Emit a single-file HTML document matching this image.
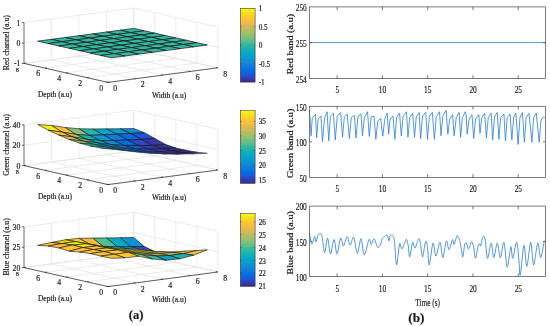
<!DOCTYPE html>
<html><head><meta charset="utf-8"><title>Figure</title>
<style>html,body{margin:0;padding:0;background:#fff}svg{display:block}</style></head>
<body>
<svg width="550" height="326" viewBox="0 0 550 326">
<rect width="550" height="326" fill="#fff"/>
<line x1="108" y1="82.4" x2="24" y2="63.4" stroke="#e2e2e2" stroke-width="0.7"/>
<line x1="108" y1="82.4" x2="217.8" y2="67.8" stroke="#e2e2e2" stroke-width="0.7"/>
<line x1="135.45" y1="78.75" x2="51.45" y2="59.75" stroke="#e2e2e2" stroke-width="0.7"/>
<line x1="87" y1="77.65" x2="196.8" y2="63.05" stroke="#e2e2e2" stroke-width="0.7"/>
<line x1="162.9" y1="75.1" x2="78.9" y2="56.1" stroke="#e2e2e2" stroke-width="0.7"/>
<line x1="66" y1="72.9" x2="175.8" y2="58.3" stroke="#e2e2e2" stroke-width="0.7"/>
<line x1="190.35" y1="71.45" x2="106.35" y2="52.45" stroke="#e2e2e2" stroke-width="0.7"/>
<line x1="45" y1="68.15" x2="154.8" y2="53.55" stroke="#e2e2e2" stroke-width="0.7"/>
<line x1="217.8" y1="67.8" x2="133.8" y2="48.8" stroke="#e2e2e2" stroke-width="0.7"/>
<line x1="24" y1="63.4" x2="133.8" y2="48.8" stroke="#e2e2e2" stroke-width="0.7"/>
<line x1="24" y1="63.4" x2="24" y2="22.6" stroke="#e2e2e2" stroke-width="0.7"/>
<line x1="217.8" y1="67.8" x2="217.8" y2="27" stroke="#e2e2e2" stroke-width="0.7"/>
<line x1="51.45" y1="59.75" x2="51.45" y2="18.95" stroke="#e2e2e2" stroke-width="0.7"/>
<line x1="196.8" y1="63.05" x2="196.8" y2="22.25" stroke="#e2e2e2" stroke-width="0.7"/>
<line x1="78.9" y1="56.1" x2="78.9" y2="15.3" stroke="#e2e2e2" stroke-width="0.7"/>
<line x1="175.8" y1="58.3" x2="175.8" y2="17.5" stroke="#e2e2e2" stroke-width="0.7"/>
<line x1="106.35" y1="52.45" x2="106.35" y2="11.65" stroke="#e2e2e2" stroke-width="0.7"/>
<line x1="154.8" y1="53.55" x2="154.8" y2="12.75" stroke="#e2e2e2" stroke-width="0.7"/>
<line x1="133.8" y1="48.8" x2="133.8" y2="8" stroke="#e2e2e2" stroke-width="0.7"/>
<line x1="133.8" y1="48.8" x2="133.8" y2="8" stroke="#e2e2e2" stroke-width="0.7"/>
<line x1="24" y1="63.4" x2="133.8" y2="48.8" stroke="#e2e2e2" stroke-width="0.7"/>
<line x1="133.8" y1="48.8" x2="217.8" y2="67.8" stroke="#e2e2e2" stroke-width="0.7"/>
<line x1="24" y1="43" x2="133.8" y2="28.4" stroke="#e2e2e2" stroke-width="0.7"/>
<line x1="133.8" y1="28.4" x2="217.8" y2="47.4" stroke="#e2e2e2" stroke-width="0.7"/>
<line x1="24" y1="22.6" x2="133.8" y2="8" stroke="#e2e2e2" stroke-width="0.7"/>
<line x1="133.8" y1="8" x2="217.8" y2="27" stroke="#e2e2e2" stroke-width="0.7"/>
<polygon points="130.58,32.6 144.3,30.77 133.8,28.4 120.08,30.22" fill="#33b8a1" stroke="#111" stroke-width="0.68" stroke-linejoin="round"/>
<polygon points="116.85,34.42 130.58,32.6 120.08,30.22 106.35,32.05" fill="#33b8a1" stroke="#111" stroke-width="0.68" stroke-linejoin="round"/>
<polygon points="141.08,34.97 154.8,33.15 144.3,30.77 130.58,32.6" fill="#33b8a1" stroke="#111" stroke-width="0.68" stroke-linejoin="round"/>
<polygon points="103.12,36.25 116.85,34.42 106.35,32.05 92.62,33.88" fill="#33b8a1" stroke="#111" stroke-width="0.68" stroke-linejoin="round"/>
<polygon points="127.35,36.8 141.08,34.97 130.58,32.6 116.85,34.42" fill="#33b8a1" stroke="#111" stroke-width="0.68" stroke-linejoin="round"/>
<polygon points="151.58,37.35 165.3,35.52 154.8,33.15 141.08,34.97" fill="#33b8a1" stroke="#111" stroke-width="0.68" stroke-linejoin="round"/>
<polygon points="89.4,38.07 103.12,36.25 92.62,33.88 78.9,35.7" fill="#33b8a1" stroke="#111" stroke-width="0.68" stroke-linejoin="round"/>
<polygon points="113.62,38.62 127.35,36.8 116.85,34.42 103.12,36.25" fill="#33b8a1" stroke="#111" stroke-width="0.68" stroke-linejoin="round"/>
<polygon points="137.85,39.18 151.58,37.35 141.08,34.97 127.35,36.8" fill="#33b8a1" stroke="#111" stroke-width="0.68" stroke-linejoin="round"/>
<polygon points="162.08,39.73 175.8,37.9 165.3,35.52 151.58,37.35" fill="#33b8a1" stroke="#111" stroke-width="0.68" stroke-linejoin="round"/>
<polygon points="75.68,39.9 89.4,38.07 78.9,35.7 65.18,37.52" fill="#33b8a1" stroke="#111" stroke-width="0.68" stroke-linejoin="round"/>
<polygon points="99.9,40.45 113.62,38.62 103.12,36.25 89.4,38.07" fill="#33b8a1" stroke="#111" stroke-width="0.68" stroke-linejoin="round"/>
<polygon points="124.12,41 137.85,39.18 127.35,36.8 113.62,38.62" fill="#33b8a1" stroke="#111" stroke-width="0.68" stroke-linejoin="round"/>
<polygon points="148.35,41.55 162.08,39.73 151.58,37.35 137.85,39.18" fill="#33b8a1" stroke="#111" stroke-width="0.68" stroke-linejoin="round"/>
<polygon points="61.95,41.72 75.68,39.9 65.18,37.52 51.45,39.35" fill="#33b8a1" stroke="#111" stroke-width="0.68" stroke-linejoin="round"/>
<polygon points="172.58,42.1 186.3,40.27 175.8,37.9 162.08,39.73" fill="#33b8a1" stroke="#111" stroke-width="0.68" stroke-linejoin="round"/>
<polygon points="86.18,42.27 99.9,40.45 89.4,38.07 75.68,39.9" fill="#33b8a1" stroke="#111" stroke-width="0.68" stroke-linejoin="round"/>
<polygon points="110.4,42.82 124.12,41 113.62,38.62 99.9,40.45" fill="#33b8a1" stroke="#111" stroke-width="0.68" stroke-linejoin="round"/>
<polygon points="134.62,43.38 148.35,41.55 137.85,39.18 124.12,41" fill="#33b8a1" stroke="#111" stroke-width="0.68" stroke-linejoin="round"/>
<polygon points="48.22,43.55 61.95,41.72 51.45,39.35 37.72,41.17" fill="#33b8a1" stroke="#111" stroke-width="0.68" stroke-linejoin="round"/>
<polygon points="158.85,43.93 172.58,42.1 162.08,39.73 148.35,41.55" fill="#33b8a1" stroke="#111" stroke-width="0.68" stroke-linejoin="round"/>
<polygon points="72.45,44.1 86.18,42.27 75.68,39.9 61.95,41.72" fill="#33b8a1" stroke="#111" stroke-width="0.68" stroke-linejoin="round"/>
<polygon points="183.08,44.48 196.8,42.65 186.3,40.27 172.58,42.1" fill="#33b8a1" stroke="#111" stroke-width="0.68" stroke-linejoin="round"/>
<polygon points="96.68,44.65 110.4,42.82 99.9,40.45 86.18,42.27" fill="#33b8a1" stroke="#111" stroke-width="0.68" stroke-linejoin="round"/>
<polygon points="120.9,45.2 134.62,43.38 124.12,41 110.4,42.82" fill="#33b8a1" stroke="#111" stroke-width="0.68" stroke-linejoin="round"/>
<polygon points="145.12,45.75 158.85,43.93 148.35,41.55 134.62,43.38" fill="#33b8a1" stroke="#111" stroke-width="0.68" stroke-linejoin="round"/>
<polygon points="58.72,45.93 72.45,44.1 61.95,41.72 48.22,43.55" fill="#33b8a1" stroke="#111" stroke-width="0.68" stroke-linejoin="round"/>
<polygon points="169.35,46.3 183.08,44.48 172.58,42.1 158.85,43.93" fill="#33b8a1" stroke="#111" stroke-width="0.68" stroke-linejoin="round"/>
<polygon points="82.95,46.48 96.68,44.65 86.18,42.27 72.45,44.1" fill="#33b8a1" stroke="#111" stroke-width="0.68" stroke-linejoin="round"/>
<polygon points="193.58,46.85 207.3,45.02 196.8,42.65 183.08,44.48" fill="#33b8a1" stroke="#111" stroke-width="0.68" stroke-linejoin="round"/>
<polygon points="107.18,47.02 120.9,45.2 110.4,42.82 96.68,44.65" fill="#33b8a1" stroke="#111" stroke-width="0.68" stroke-linejoin="round"/>
<polygon points="131.4,47.57 145.12,45.75 134.62,43.38 120.9,45.2" fill="#33b8a1" stroke="#111" stroke-width="0.68" stroke-linejoin="round"/>
<polygon points="155.62,48.13 169.35,46.3 158.85,43.93 145.12,45.75" fill="#33b8a1" stroke="#111" stroke-width="0.68" stroke-linejoin="round"/>
<polygon points="69.22,48.3 82.95,46.48 72.45,44.1 58.72,45.93" fill="#33b8a1" stroke="#111" stroke-width="0.68" stroke-linejoin="round"/>
<polygon points="179.85,48.68 193.58,46.85 183.08,44.48 169.35,46.3" fill="#33b8a1" stroke="#111" stroke-width="0.68" stroke-linejoin="round"/>
<polygon points="93.45,48.85 107.18,47.02 96.68,44.65 82.95,46.48" fill="#33b8a1" stroke="#111" stroke-width="0.68" stroke-linejoin="round"/>
<polygon points="117.68,49.4 131.4,47.57 120.9,45.2 107.18,47.02" fill="#33b8a1" stroke="#111" stroke-width="0.68" stroke-linejoin="round"/>
<polygon points="141.9,49.95 155.62,48.13 145.12,45.75 131.4,47.57" fill="#33b8a1" stroke="#111" stroke-width="0.68" stroke-linejoin="round"/>
<polygon points="166.12,50.5 179.85,48.68 169.35,46.3 155.62,48.13" fill="#33b8a1" stroke="#111" stroke-width="0.68" stroke-linejoin="round"/>
<polygon points="79.72,50.68 93.45,48.85 82.95,46.48 69.22,48.3" fill="#33b8a1" stroke="#111" stroke-width="0.68" stroke-linejoin="round"/>
<polygon points="103.95,51.23 117.68,49.4 107.18,47.02 93.45,48.85" fill="#33b8a1" stroke="#111" stroke-width="0.68" stroke-linejoin="round"/>
<polygon points="128.18,51.77 141.9,49.95 131.4,47.57 117.68,49.4" fill="#33b8a1" stroke="#111" stroke-width="0.68" stroke-linejoin="round"/>
<polygon points="152.4,52.32 166.12,50.5 155.62,48.13 141.9,49.95" fill="#33b8a1" stroke="#111" stroke-width="0.68" stroke-linejoin="round"/>
<polygon points="90.22,53.05 103.95,51.23 93.45,48.85 79.72,50.68" fill="#33b8a1" stroke="#111" stroke-width="0.68" stroke-linejoin="round"/>
<polygon points="114.45,53.6 128.18,51.77 117.68,49.4 103.95,51.23" fill="#33b8a1" stroke="#111" stroke-width="0.68" stroke-linejoin="round"/>
<polygon points="138.68,54.15 152.4,52.32 141.9,49.95 128.18,51.77" fill="#33b8a1" stroke="#111" stroke-width="0.68" stroke-linejoin="round"/>
<polygon points="100.72,55.43 114.45,53.6 103.95,51.23 90.22,53.05" fill="#33b8a1" stroke="#111" stroke-width="0.68" stroke-linejoin="round"/>
<polygon points="124.95,55.98 138.68,54.15 128.18,51.77 114.45,53.6" fill="#33b8a1" stroke="#111" stroke-width="0.68" stroke-linejoin="round"/>
<polygon points="111.22,57.8 124.95,55.98 114.45,53.6 100.72,55.43" fill="#33b8a1" stroke="#111" stroke-width="0.68" stroke-linejoin="round"/>
<line x1="24" y1="63.4" x2="24" y2="22.6" stroke="#4a4a4a" stroke-width="0.75"/>
<line x1="24" y1="63.4" x2="108" y2="82.4" stroke="#303030" stroke-width="0.75"/>
<line x1="108" y1="82.4" x2="217.8" y2="67.8" stroke="#303030" stroke-width="0.75"/>
<line x1="24" y1="63.4" x2="21.8" y2="63.4" stroke="#303030" stroke-width="0.75"/>
<line x1="24" y1="43" x2="21.8" y2="43" stroke="#303030" stroke-width="0.75"/>
<line x1="24" y1="22.6" x2="21.8" y2="22.6" stroke="#303030" stroke-width="0.75"/>
<line x1="108" y1="82.4" x2="109.92" y2="82.14" stroke="#303030" stroke-width="0.75"/>
<line x1="108" y1="82.4" x2="106.11" y2="81.97" stroke="#303030" stroke-width="0.75"/>
<line x1="87" y1="77.65" x2="88.92" y2="77.39" stroke="#303030" stroke-width="0.75"/>
<line x1="135.45" y1="78.75" x2="133.56" y2="78.32" stroke="#303030" stroke-width="0.75"/>
<line x1="66" y1="72.9" x2="67.92" y2="72.64" stroke="#303030" stroke-width="0.75"/>
<line x1="162.9" y1="75.1" x2="161.01" y2="74.67" stroke="#303030" stroke-width="0.75"/>
<line x1="45" y1="68.15" x2="46.92" y2="67.89" stroke="#303030" stroke-width="0.75"/>
<line x1="190.35" y1="71.45" x2="188.46" y2="71.02" stroke="#303030" stroke-width="0.75"/>
<line x1="24" y1="63.4" x2="25.92" y2="63.14" stroke="#303030" stroke-width="0.75"/>
<line x1="217.8" y1="67.8" x2="215.91" y2="67.37" stroke="#303030" stroke-width="0.75"/>
<text transform="translate(20.4,66.3)" font-size="7.8" text-anchor="end" textLength="6.5" lengthAdjust="spacingAndGlyphs" fill="#1a1a1a" stroke="#1a1a1a" stroke-width="0.18" font-family="Liberation Serif, serif">-1</text>
<text transform="translate(20.4,45.9)" font-size="7.8" text-anchor="end" textLength="3.9" lengthAdjust="spacingAndGlyphs" fill="#1a1a1a" stroke="#1a1a1a" stroke-width="0.18" font-family="Liberation Serif, serif">0</text>
<text transform="translate(20.4,25.5)" font-size="7.8" text-anchor="end" textLength="3.9" lengthAdjust="spacingAndGlyphs" fill="#1a1a1a" stroke="#1a1a1a" stroke-width="0.18" font-family="Liberation Serif, serif">1</text>
<text transform="translate(101.2,90.7)" font-size="7.8" text-anchor="middle" textLength="3.9" lengthAdjust="spacingAndGlyphs" fill="#1a1a1a" stroke="#1a1a1a" stroke-width="0.18" font-family="Liberation Serif, serif">0</text>
<text transform="translate(115.3,91.1)" font-size="7.8" text-anchor="middle" textLength="3.9" lengthAdjust="spacingAndGlyphs" fill="#1a1a1a" stroke="#1a1a1a" stroke-width="0.18" font-family="Liberation Serif, serif">0</text>
<text transform="translate(80.2,85.95)" font-size="7.8" text-anchor="middle" textLength="3.9" lengthAdjust="spacingAndGlyphs" fill="#1a1a1a" stroke="#1a1a1a" stroke-width="0.18" font-family="Liberation Serif, serif">2</text>
<text transform="translate(142.75,87.45)" font-size="7.8" text-anchor="middle" textLength="3.9" lengthAdjust="spacingAndGlyphs" fill="#1a1a1a" stroke="#1a1a1a" stroke-width="0.18" font-family="Liberation Serif, serif">2</text>
<text transform="translate(59.2,81.2)" font-size="7.8" text-anchor="middle" textLength="3.9" lengthAdjust="spacingAndGlyphs" fill="#1a1a1a" stroke="#1a1a1a" stroke-width="0.18" font-family="Liberation Serif, serif">4</text>
<text transform="translate(170.2,83.8)" font-size="7.8" text-anchor="middle" textLength="3.9" lengthAdjust="spacingAndGlyphs" fill="#1a1a1a" stroke="#1a1a1a" stroke-width="0.18" font-family="Liberation Serif, serif">4</text>
<text transform="translate(38.2,76.45)" font-size="7.8" text-anchor="middle" textLength="3.9" lengthAdjust="spacingAndGlyphs" fill="#1a1a1a" stroke="#1a1a1a" stroke-width="0.18" font-family="Liberation Serif, serif">6</text>
<text transform="translate(197.65,80.15)" font-size="7.8" text-anchor="middle" textLength="3.9" lengthAdjust="spacingAndGlyphs" fill="#1a1a1a" stroke="#1a1a1a" stroke-width="0.18" font-family="Liberation Serif, serif">6</text>
<text transform="translate(17.2,71.7)" font-size="6.3" text-anchor="middle" textLength="3.15" lengthAdjust="spacingAndGlyphs" fill="#1a1a1a" stroke="#1a1a1a" stroke-width="0.18" font-family="Liberation Serif, serif">8</text>
<text transform="translate(225.1,76.5)" font-size="7.8" text-anchor="middle" textLength="3.9" lengthAdjust="spacingAndGlyphs" fill="#1a1a1a" stroke="#1a1a1a" stroke-width="0.18" font-family="Liberation Serif, serif">8</text>
<text transform="translate(55,96.9)" font-size="7.5" text-anchor="middle" textLength="34.15" lengthAdjust="spacingAndGlyphs" fill="#1a1a1a" stroke="#1a1a1a" stroke-width="0.18" font-family="Liberation Serif, serif">Depth (a.u)</text>
<text transform="translate(169,98)" font-size="7.5" text-anchor="middle" textLength="34.27" lengthAdjust="spacingAndGlyphs" fill="#1a1a1a" stroke="#1a1a1a" stroke-width="0.18" font-family="Liberation Serif, serif">Width (a.u)</text>
<text transform="translate(8.9,42.7) rotate(-90)" font-size="7.8" text-anchor="middle" textLength="55.22" lengthAdjust="spacingAndGlyphs" fill="#1a1a1a" stroke="#1a1a1a" stroke-width="0.18" font-family="Liberation Serif, serif">Red channel (a.u)</text>
<line x1="108" y1="184.6" x2="24" y2="165.6" stroke="#e2e2e2" stroke-width="0.7"/>
<line x1="108" y1="184.6" x2="217.8" y2="170" stroke="#e2e2e2" stroke-width="0.7"/>
<line x1="135.45" y1="180.95" x2="51.45" y2="161.95" stroke="#e2e2e2" stroke-width="0.7"/>
<line x1="87" y1="179.85" x2="196.8" y2="165.25" stroke="#e2e2e2" stroke-width="0.7"/>
<line x1="162.9" y1="177.3" x2="78.9" y2="158.3" stroke="#e2e2e2" stroke-width="0.7"/>
<line x1="66" y1="175.1" x2="175.8" y2="160.5" stroke="#e2e2e2" stroke-width="0.7"/>
<line x1="190.35" y1="173.65" x2="106.35" y2="154.65" stroke="#e2e2e2" stroke-width="0.7"/>
<line x1="45" y1="170.35" x2="154.8" y2="155.75" stroke="#e2e2e2" stroke-width="0.7"/>
<line x1="217.8" y1="170" x2="133.8" y2="151" stroke="#e2e2e2" stroke-width="0.7"/>
<line x1="24" y1="165.6" x2="133.8" y2="151" stroke="#e2e2e2" stroke-width="0.7"/>
<line x1="24" y1="165.6" x2="24" y2="124.8" stroke="#e2e2e2" stroke-width="0.7"/>
<line x1="217.8" y1="170" x2="217.8" y2="129.2" stroke="#e2e2e2" stroke-width="0.7"/>
<line x1="51.45" y1="161.95" x2="51.45" y2="121.15" stroke="#e2e2e2" stroke-width="0.7"/>
<line x1="196.8" y1="165.25" x2="196.8" y2="124.45" stroke="#e2e2e2" stroke-width="0.7"/>
<line x1="78.9" y1="158.3" x2="78.9" y2="117.5" stroke="#e2e2e2" stroke-width="0.7"/>
<line x1="175.8" y1="160.5" x2="175.8" y2="119.7" stroke="#e2e2e2" stroke-width="0.7"/>
<line x1="106.35" y1="154.65" x2="106.35" y2="113.85" stroke="#e2e2e2" stroke-width="0.7"/>
<line x1="154.8" y1="155.75" x2="154.8" y2="114.95" stroke="#e2e2e2" stroke-width="0.7"/>
<line x1="133.8" y1="151" x2="133.8" y2="110.2" stroke="#e2e2e2" stroke-width="0.7"/>
<line x1="133.8" y1="151" x2="133.8" y2="110.2" stroke="#e2e2e2" stroke-width="0.7"/>
<line x1="24" y1="165.6" x2="133.8" y2="151" stroke="#e2e2e2" stroke-width="0.7"/>
<line x1="133.8" y1="151" x2="217.8" y2="170" stroke="#e2e2e2" stroke-width="0.7"/>
<line x1="24" y1="145.2" x2="133.8" y2="130.6" stroke="#e2e2e2" stroke-width="0.7"/>
<line x1="133.8" y1="130.6" x2="217.8" y2="149.6" stroke="#e2e2e2" stroke-width="0.7"/>
<line x1="24" y1="124.8" x2="133.8" y2="110.2" stroke="#e2e2e2" stroke-width="0.7"/>
<line x1="133.8" y1="110.2" x2="217.8" y2="129.2" stroke="#e2e2e2" stroke-width="0.7"/>
<polygon points="130.58,133.47 144.3,132.67 133.8,128.56 120.08,128.75" fill="#118dd2" stroke="#111" stroke-width="0.6" stroke-linejoin="round"/>
<polygon points="116.85,134.18 130.58,133.47 120.08,128.75 106.35,128.84" fill="#079bd0" stroke="#111" stroke-width="0.6" stroke-linejoin="round"/>
<polygon points="141.08,139.42 154.8,138.41 144.3,132.67 130.58,133.47" fill="#1c55d6" stroke="#111" stroke-width="0.6" stroke-linejoin="round"/>
<polygon points="103.12,134.88 116.85,134.18 106.35,128.84 92.62,128.94" fill="#06a3cb" stroke="#111" stroke-width="0.6" stroke-linejoin="round"/>
<polygon points="127.35,140.02 141.08,139.42 130.58,133.47 116.85,134.18" fill="#036ce0" stroke="#111" stroke-width="0.6" stroke-linejoin="round"/>
<polygon points="151.58,145.47 165.3,144.35 154.8,138.41 141.08,139.42" fill="#3638a3" stroke="#111" stroke-width="0.6" stroke-linejoin="round"/>
<polygon points="89.4,135.38 103.12,134.88 92.62,128.94 78.9,128.72" fill="#23b4ab" stroke="#111" stroke-width="0.6" stroke-linejoin="round"/>
<polygon points="113.62,140.52 127.35,140.02 116.85,134.18 103.12,134.88" fill="#117ada" stroke="#111" stroke-width="0.6" stroke-linejoin="round"/>
<polygon points="137.85,145.46 151.58,145.47 141.08,139.42 127.35,140.02" fill="#2d49c3" stroke="#111" stroke-width="0.6" stroke-linejoin="round"/>
<polygon points="162.08,148.55 175.8,147.95 165.3,144.35 151.58,145.47" fill="#363296" stroke="#111" stroke-width="0.6" stroke-linejoin="round"/>
<polygon points="75.68,134.35 89.4,135.38 78.9,128.72 65.18,127.48" fill="#89bf76" stroke="#111" stroke-width="0.6" stroke-linejoin="round"/>
<polygon points="99.9,140.51 113.62,140.52 103.12,134.88 89.4,135.38" fill="#079bd0" stroke="#111" stroke-width="0.6" stroke-linejoin="round"/>
<polygon points="124.12,145.44 137.85,145.46 127.35,140.02 113.62,140.52" fill="#046de0" stroke="#111" stroke-width="0.6" stroke-linejoin="round"/>
<polygon points="148.35,149.26 162.08,148.55 151.58,145.47 137.85,145.46" fill="#343eb0" stroke="#111" stroke-width="0.6" stroke-linejoin="round"/>
<polygon points="61.95,132.09 75.68,134.35 65.18,127.48 51.45,125.43" fill="#fec139" stroke="#111" stroke-width="0.6" stroke-linejoin="round"/>
<polygon points="172.58,150.93 186.3,150.33 175.8,147.95 162.08,148.55" fill="#362f90" stroke="#111" stroke-width="0.59" stroke-linejoin="round"/>
<polygon points="86.18,139.17 99.9,140.51 89.4,135.38 75.68,134.35" fill="#19b2b2" stroke="#111" stroke-width="0.6" stroke-linejoin="round"/>
<polygon points="110.4,144.52 124.12,145.44 113.62,140.52 99.9,140.51" fill="#1389d3" stroke="#111" stroke-width="0.6" stroke-linejoin="round"/>
<polygon points="134.62,148.74 148.35,149.26 137.85,145.46 124.12,145.44" fill="#0f5cdd" stroke="#111" stroke-width="0.6" stroke-linejoin="round"/>
<polygon points="48.22,130.14 61.95,132.09 51.45,125.43 37.72,124.51" fill="#f5ec18" stroke="#111" stroke-width="0.6" stroke-linejoin="round"/>
<polygon points="158.85,151.74 172.58,150.93 162.08,148.55 148.35,149.26" fill="#3636a0" stroke="#111" stroke-width="0.6" stroke-linejoin="round"/>
<polygon points="72.45,136.92 86.18,139.17 75.68,134.35 61.95,132.09" fill="#adbe67" stroke="#111" stroke-width="0.6" stroke-linejoin="round"/>
<polygon points="183.08,152.79 196.8,152.19 186.3,150.33 172.58,150.93" fill="#352c8a" stroke="#111" stroke-width="0.54" stroke-linejoin="round"/>
<polygon points="96.68,142.77 110.4,144.52 99.9,140.51 86.18,139.17" fill="#0cadbc" stroke="#111" stroke-width="0.57" stroke-linejoin="round"/>
<polygon points="120.9,147.6 134.62,148.74 124.12,145.44 110.4,144.52" fill="#0d75dc" stroke="#111" stroke-width="0.55" stroke-linejoin="round"/>
<polygon points="145.12,151.32 158.85,151.74 148.35,149.26 134.62,148.74" fill="#2c4ac7" stroke="#111" stroke-width="0.52" stroke-linejoin="round"/>
<polygon points="58.72,135.07 72.45,136.92 61.95,132.09 48.22,130.14" fill="#fec139" stroke="#111" stroke-width="0.6" stroke-linejoin="round"/>
<polygon points="169.35,153.5 183.08,152.79 172.58,150.93 158.85,151.74" fill="#363296" stroke="#111" stroke-width="0.54" stroke-linejoin="round"/>
<polygon points="82.95,141.02 96.68,142.77 86.18,139.17 72.45,136.92" fill="#78bf7d" stroke="#111" stroke-width="0.54" stroke-linejoin="round"/>
<polygon points="193.58,153.84 207.3,153.24 196.8,152.19 183.08,152.79" fill="#352a87" stroke="#111" stroke-width="0.43" stroke-linejoin="round"/>
<polygon points="107.18,145.96 120.9,147.6 110.4,144.52 96.68,142.77" fill="#0e92d2" stroke="#111" stroke-width="0.48" stroke-linejoin="round"/>
<polygon points="131.4,150.08 145.12,151.32 134.62,148.74 120.9,147.6" fill="#046de0" stroke="#111" stroke-width="0.45" stroke-linejoin="round"/>
<polygon points="155.62,153.08 169.35,153.5 158.85,151.74 145.12,151.32" fill="#3342b6" stroke="#111" stroke-width="0.42" stroke-linejoin="round"/>
<polygon points="69.22,139.48 82.95,141.02 72.45,136.92 58.72,135.07" fill="#ecb94c" stroke="#111" stroke-width="0.6" stroke-linejoin="round"/>
<polygon points="179.85,154.24 193.58,153.84 183.08,152.79 169.35,153.5" fill="#362f90" stroke="#111" stroke-width="0.4" stroke-linejoin="round"/>
<polygon points="93.45,144.32 107.18,145.96 96.68,142.77 82.95,141.02" fill="#0bacbd" stroke="#111" stroke-width="0.49" stroke-linejoin="round"/>
<polygon points="117.68,148.64 131.4,150.08 120.9,147.6 107.18,145.96" fill="#1389d3" stroke="#111" stroke-width="0.42" stroke-linejoin="round"/>
<polygon points="141.9,152.15 155.62,153.08 145.12,151.32 131.4,150.08" fill="#0364e1" stroke="#111" stroke-width="0.37" stroke-linejoin="round"/>
<polygon points="166.12,154.13 179.85,154.24 169.35,153.5 155.62,153.08" fill="#353ba9" stroke="#111" stroke-width="0.29" stroke-linejoin="round"/>
<polygon points="79.72,143.19 93.45,144.32 82.95,141.02 69.22,139.48" fill="#84bf78" stroke="#111" stroke-width="0.55" stroke-linejoin="round"/>
<polygon points="103.95,147 117.68,148.64 107.18,145.96 93.45,144.32" fill="#07aac1" stroke="#111" stroke-width="0.42" stroke-linejoin="round"/>
<polygon points="128.18,150.71 141.9,152.15 131.4,150.08 117.68,148.64" fill="#127cd9" stroke="#111" stroke-width="0.35" stroke-linejoin="round"/>
<polygon points="152.4,153.51 166.12,154.13 155.62,153.08 141.9,152.15" fill="#1459db" stroke="#111" stroke-width="0.27" stroke-linejoin="round"/>
<polygon points="90.22,146.07 103.95,147 93.45,144.32 79.72,143.19" fill="#30b7a3" stroke="#111" stroke-width="0.5" stroke-linejoin="round"/>
<polygon points="114.45,149.17 128.18,150.71 117.68,148.64 103.95,147" fill="#079dcf" stroke="#111" stroke-width="0.33" stroke-linejoin="round"/>
<polygon points="138.68,152.27 152.4,153.51 141.9,152.15 128.18,150.71" fill="#0e77db" stroke="#111" stroke-width="0.23" stroke-linejoin="round"/>
<polygon points="100.72,148.14 114.45,149.17 103.95,147 90.22,146.07" fill="#27b5a8" stroke="#111" stroke-width="0.41" stroke-linejoin="round"/>
<polygon points="124.95,150.73 138.68,152.27 128.18,150.71 114.45,149.17" fill="#0899d1" stroke="#111" stroke-width="0.22" stroke-linejoin="round"/>
<polygon points="111.22,149.29 124.95,150.73 114.45,149.17 100.72,148.14" fill="#1bb2b0" stroke="#111" stroke-width="0.23" stroke-linejoin="round"/>
<line x1="24" y1="165.6" x2="24" y2="124.8" stroke="#4a4a4a" stroke-width="0.75"/>
<line x1="24" y1="165.6" x2="108" y2="184.6" stroke="#303030" stroke-width="0.75"/>
<line x1="108" y1="184.6" x2="217.8" y2="170" stroke="#303030" stroke-width="0.75"/>
<line x1="24" y1="165.6" x2="21.8" y2="165.6" stroke="#303030" stroke-width="0.75"/>
<line x1="24" y1="145.2" x2="21.8" y2="145.2" stroke="#303030" stroke-width="0.75"/>
<line x1="24" y1="124.8" x2="21.8" y2="124.8" stroke="#303030" stroke-width="0.75"/>
<line x1="108" y1="184.6" x2="109.92" y2="184.34" stroke="#303030" stroke-width="0.75"/>
<line x1="108" y1="184.6" x2="106.11" y2="184.17" stroke="#303030" stroke-width="0.75"/>
<line x1="87" y1="179.85" x2="88.92" y2="179.59" stroke="#303030" stroke-width="0.75"/>
<line x1="135.45" y1="180.95" x2="133.56" y2="180.52" stroke="#303030" stroke-width="0.75"/>
<line x1="66" y1="175.1" x2="67.92" y2="174.84" stroke="#303030" stroke-width="0.75"/>
<line x1="162.9" y1="177.3" x2="161.01" y2="176.87" stroke="#303030" stroke-width="0.75"/>
<line x1="45" y1="170.35" x2="46.92" y2="170.09" stroke="#303030" stroke-width="0.75"/>
<line x1="190.35" y1="173.65" x2="188.46" y2="173.22" stroke="#303030" stroke-width="0.75"/>
<line x1="24" y1="165.6" x2="25.92" y2="165.34" stroke="#303030" stroke-width="0.75"/>
<line x1="217.8" y1="170" x2="215.91" y2="169.57" stroke="#303030" stroke-width="0.75"/>
<text transform="translate(20.4,168.5)" font-size="7.8" text-anchor="end" textLength="3.9" lengthAdjust="spacingAndGlyphs" fill="#1a1a1a" stroke="#1a1a1a" stroke-width="0.18" font-family="Liberation Serif, serif">0</text>
<text transform="translate(20.4,148.1)" font-size="7.8" text-anchor="end" textLength="7.8" lengthAdjust="spacingAndGlyphs" fill="#1a1a1a" stroke="#1a1a1a" stroke-width="0.18" font-family="Liberation Serif, serif">20</text>
<text transform="translate(20.4,127.7)" font-size="7.8" text-anchor="end" textLength="7.8" lengthAdjust="spacingAndGlyphs" fill="#1a1a1a" stroke="#1a1a1a" stroke-width="0.18" font-family="Liberation Serif, serif">40</text>
<text transform="translate(101.2,192.9)" font-size="7.8" text-anchor="middle" textLength="3.9" lengthAdjust="spacingAndGlyphs" fill="#1a1a1a" stroke="#1a1a1a" stroke-width="0.18" font-family="Liberation Serif, serif">0</text>
<text transform="translate(115.3,193.3)" font-size="7.8" text-anchor="middle" textLength="3.9" lengthAdjust="spacingAndGlyphs" fill="#1a1a1a" stroke="#1a1a1a" stroke-width="0.18" font-family="Liberation Serif, serif">0</text>
<text transform="translate(80.2,188.15)" font-size="7.8" text-anchor="middle" textLength="3.9" lengthAdjust="spacingAndGlyphs" fill="#1a1a1a" stroke="#1a1a1a" stroke-width="0.18" font-family="Liberation Serif, serif">2</text>
<text transform="translate(142.75,189.65)" font-size="7.8" text-anchor="middle" textLength="3.9" lengthAdjust="spacingAndGlyphs" fill="#1a1a1a" stroke="#1a1a1a" stroke-width="0.18" font-family="Liberation Serif, serif">2</text>
<text transform="translate(59.2,183.4)" font-size="7.8" text-anchor="middle" textLength="3.9" lengthAdjust="spacingAndGlyphs" fill="#1a1a1a" stroke="#1a1a1a" stroke-width="0.18" font-family="Liberation Serif, serif">4</text>
<text transform="translate(170.2,186)" font-size="7.8" text-anchor="middle" textLength="3.9" lengthAdjust="spacingAndGlyphs" fill="#1a1a1a" stroke="#1a1a1a" stroke-width="0.18" font-family="Liberation Serif, serif">4</text>
<text transform="translate(38.2,178.65)" font-size="7.8" text-anchor="middle" textLength="3.9" lengthAdjust="spacingAndGlyphs" fill="#1a1a1a" stroke="#1a1a1a" stroke-width="0.18" font-family="Liberation Serif, serif">6</text>
<text transform="translate(197.65,182.35)" font-size="7.8" text-anchor="middle" textLength="3.9" lengthAdjust="spacingAndGlyphs" fill="#1a1a1a" stroke="#1a1a1a" stroke-width="0.18" font-family="Liberation Serif, serif">6</text>
<text transform="translate(17.2,173.9)" font-size="6.3" text-anchor="middle" textLength="3.15" lengthAdjust="spacingAndGlyphs" fill="#1a1a1a" stroke="#1a1a1a" stroke-width="0.18" font-family="Liberation Serif, serif">8</text>
<text transform="translate(225.1,178.7)" font-size="7.8" text-anchor="middle" textLength="3.9" lengthAdjust="spacingAndGlyphs" fill="#1a1a1a" stroke="#1a1a1a" stroke-width="0.18" font-family="Liberation Serif, serif">8</text>
<text transform="translate(55,199.1)" font-size="7.5" text-anchor="middle" textLength="34.15" lengthAdjust="spacingAndGlyphs" fill="#1a1a1a" stroke="#1a1a1a" stroke-width="0.18" font-family="Liberation Serif, serif">Depth (a.u)</text>
<text transform="translate(169,200.2)" font-size="7.5" text-anchor="middle" textLength="34.27" lengthAdjust="spacingAndGlyphs" fill="#1a1a1a" stroke="#1a1a1a" stroke-width="0.18" font-family="Liberation Serif, serif">Width (a.u)</text>
<text transform="translate(8.9,144.9) rotate(-90)" font-size="7.8" text-anchor="middle" textLength="61.71" lengthAdjust="spacingAndGlyphs" fill="#1a1a1a" stroke="#1a1a1a" stroke-width="0.18" font-family="Liberation Serif, serif">Green channel (a.u)</text>
<line x1="108" y1="286.6" x2="24" y2="267.6" stroke="#e2e2e2" stroke-width="0.7"/>
<line x1="108" y1="286.6" x2="217.8" y2="272" stroke="#e2e2e2" stroke-width="0.7"/>
<line x1="135.45" y1="282.95" x2="51.45" y2="263.95" stroke="#e2e2e2" stroke-width="0.7"/>
<line x1="87" y1="281.85" x2="196.8" y2="267.25" stroke="#e2e2e2" stroke-width="0.7"/>
<line x1="162.9" y1="279.3" x2="78.9" y2="260.3" stroke="#e2e2e2" stroke-width="0.7"/>
<line x1="66" y1="277.1" x2="175.8" y2="262.5" stroke="#e2e2e2" stroke-width="0.7"/>
<line x1="190.35" y1="275.65" x2="106.35" y2="256.65" stroke="#e2e2e2" stroke-width="0.7"/>
<line x1="45" y1="272.35" x2="154.8" y2="257.75" stroke="#e2e2e2" stroke-width="0.7"/>
<line x1="217.8" y1="272" x2="133.8" y2="253" stroke="#e2e2e2" stroke-width="0.7"/>
<line x1="24" y1="267.6" x2="133.8" y2="253" stroke="#e2e2e2" stroke-width="0.7"/>
<line x1="24" y1="267.6" x2="24" y2="226.8" stroke="#e2e2e2" stroke-width="0.7"/>
<line x1="217.8" y1="272" x2="217.8" y2="231.2" stroke="#e2e2e2" stroke-width="0.7"/>
<line x1="51.45" y1="263.95" x2="51.45" y2="223.15" stroke="#e2e2e2" stroke-width="0.7"/>
<line x1="196.8" y1="267.25" x2="196.8" y2="226.45" stroke="#e2e2e2" stroke-width="0.7"/>
<line x1="78.9" y1="260.3" x2="78.9" y2="219.5" stroke="#e2e2e2" stroke-width="0.7"/>
<line x1="175.8" y1="262.5" x2="175.8" y2="221.7" stroke="#e2e2e2" stroke-width="0.7"/>
<line x1="106.35" y1="256.65" x2="106.35" y2="215.85" stroke="#e2e2e2" stroke-width="0.7"/>
<line x1="154.8" y1="257.75" x2="154.8" y2="216.95" stroke="#e2e2e2" stroke-width="0.7"/>
<line x1="133.8" y1="253" x2="133.8" y2="212.2" stroke="#e2e2e2" stroke-width="0.7"/>
<line x1="133.8" y1="253" x2="133.8" y2="212.2" stroke="#e2e2e2" stroke-width="0.7"/>
<line x1="24" y1="267.6" x2="133.8" y2="253" stroke="#e2e2e2" stroke-width="0.7"/>
<line x1="133.8" y1="253" x2="217.8" y2="272" stroke="#e2e2e2" stroke-width="0.7"/>
<line x1="24" y1="247.2" x2="133.8" y2="232.6" stroke="#e2e2e2" stroke-width="0.7"/>
<line x1="133.8" y1="232.6" x2="217.8" y2="251.6" stroke="#e2e2e2" stroke-width="0.7"/>
<line x1="24" y1="226.8" x2="133.8" y2="212.2" stroke="#e2e2e2" stroke-width="0.7"/>
<line x1="133.8" y1="212.2" x2="217.8" y2="231.2" stroke="#e2e2e2" stroke-width="0.7"/>
<polygon points="130.58,246.6 144.3,246.5 133.8,237.5 120.08,237.7" fill="#0c93d2" stroke="#111" stroke-width="0.6" stroke-linejoin="round"/>
<polygon points="116.85,246.6 130.58,246.6 120.08,237.7 106.35,237.9" fill="#07aac1" stroke="#111" stroke-width="0.6" stroke-linejoin="round"/>
<polygon points="141.08,249.8 154.8,251.5 144.3,246.5 130.58,246.6" fill="#2b4bc7" stroke="#111" stroke-width="0.6" stroke-linejoin="round"/>
<polygon points="103.12,246.4 116.85,246.6 106.35,237.9 92.62,238.1" fill="#54bd8e" stroke="#111" stroke-width="0.6" stroke-linejoin="round"/>
<polygon points="127.35,249 141.08,249.8 130.58,246.6 116.85,246.6" fill="#1483d5" stroke="#111" stroke-width="0.56" stroke-linejoin="round"/>
<polygon points="151.58,251.3 165.3,251.8 154.8,251.5 141.08,249.8" fill="#f5ee16" stroke="#111" stroke-width="0.22" stroke-linejoin="round"/>
<polygon points="89.4,244 103.12,246.4 92.62,238.1 78.9,238.3" fill="#f4ba47" stroke="#111" stroke-width="0.6" stroke-linejoin="round"/>
<polygon points="113.62,248.3 127.35,249 116.85,246.6 103.12,246.4" fill="#06a8c4" stroke="#111" stroke-width="0.47" stroke-linejoin="round"/>
<polygon points="137.85,250.8 151.58,251.3 141.08,249.8 127.35,249" fill="#f8f710" stroke="#111" stroke-width="0.38" stroke-linejoin="round"/>
<polygon points="162.08,252 175.8,251.5 165.3,251.8 151.58,251.3" fill="#f5df20" stroke="#111" stroke-width="0.22" stroke-linejoin="round"/>
<polygon points="75.68,241.6 89.4,244 78.9,238.3 65.18,239.85" fill="#fccd2e" stroke="#111" stroke-width="0.6" stroke-linejoin="round"/>
<polygon points="99.9,246.6 113.62,248.3 103.12,246.4 89.4,244" fill="#ebb94d" stroke="#111" stroke-width="0.29" stroke-linejoin="round"/>
<polygon points="124.12,249.7 137.85,250.8 127.35,249 113.62,248.3" fill="#f9fb0e" stroke="#111" stroke-width="0.34" stroke-linejoin="round"/>
<polygon points="148.35,252.4 162.08,252 151.58,251.3 137.85,250.8" fill="#f8f710" stroke="#111" stroke-width="0.37" stroke-linejoin="round"/>
<polygon points="61.95,243.5 75.68,241.6 65.18,239.85 51.45,242.4" fill="#f7d925" stroke="#111" stroke-width="0.6" stroke-linejoin="round"/>
<polygon points="172.58,252.6 186.3,251 175.8,251.5 162.08,252" fill="#fec13a" stroke="#111" stroke-width="0.33" stroke-linejoin="round"/>
<polygon points="86.18,243.8 99.9,246.6 89.4,244 75.68,241.6" fill="#f5ee16" stroke="#111" stroke-width="0.23" stroke-linejoin="round"/>
<polygon points="110.4,248 124.12,249.7 113.62,248.3 99.9,246.6" fill="#f9fb0e" stroke="#111" stroke-width="0.22" stroke-linejoin="round"/>
<polygon points="134.62,252 148.35,252.4 137.85,250.8 124.12,249.7" fill="#f9fb0e" stroke="#111" stroke-width="0.41" stroke-linejoin="round"/>
<polygon points="48.22,246.1 61.95,243.5 51.45,242.4 37.72,245.3" fill="#fbbc41" stroke="#111" stroke-width="0.6" stroke-linejoin="round"/>
<polygon points="158.85,253.6 172.58,252.6 162.08,252 148.35,252.4" fill="#fec13a" stroke="#111" stroke-width="0.42" stroke-linejoin="round"/>
<polygon points="72.45,245 86.18,243.8 75.68,241.6 61.95,243.5" fill="#f6f313" stroke="#111" stroke-width="0.6" stroke-linejoin="round"/>
<polygon points="183.08,253.6 196.8,250.5 186.3,251 172.58,252.6" fill="#fbbc41" stroke="#111" stroke-width="0.5" stroke-linejoin="round"/>
<polygon points="96.68,246 110.4,248 99.9,246.6 86.18,243.8" fill="#f8f710" stroke="#111" stroke-width="0.22" stroke-linejoin="round"/>
<polygon points="120.9,250.3 134.62,252 124.12,249.7 110.4,248" fill="#f9fb0e" stroke="#111" stroke-width="0.35" stroke-linejoin="round"/>
<polygon points="145.12,253.6 158.85,253.6 148.35,252.4 134.62,252" fill="#fec13a" stroke="#111" stroke-width="0.39" stroke-linejoin="round"/>
<polygon points="58.72,247.9 72.45,245 61.95,243.5 48.22,246.1" fill="#fec13a" stroke="#111" stroke-width="0.6" stroke-linejoin="round"/>
<polygon points="169.35,255.5 183.08,253.6 172.58,252.6 158.85,253.6" fill="#bdbd61" stroke="#111" stroke-width="0.56" stroke-linejoin="round"/>
<polygon points="82.95,247.5 96.68,246 86.18,243.8 72.45,245" fill="#f5e61b" stroke="#111" stroke-width="0.6" stroke-linejoin="round"/>
<polygon points="193.58,255.2 207.3,249.8 196.8,250.5 183.08,253.6" fill="#f4ba47" stroke="#111" stroke-width="0.6" stroke-linejoin="round"/>
<polygon points="107.18,248 120.9,250.3 110.4,248 96.68,246" fill="#f5ee16" stroke="#111" stroke-width="0.25" stroke-linejoin="round"/>
<polygon points="131.4,252.3 145.12,253.6 134.62,252 120.9,250.3" fill="#fec733" stroke="#111" stroke-width="0.28" stroke-linejoin="round"/>
<polygon points="155.62,255.9 169.35,255.5 158.85,253.6 145.12,253.6" fill="#a9be69" stroke="#111" stroke-width="0.53" stroke-linejoin="round"/>
<polygon points="69.22,251.2 82.95,247.5 72.45,245 58.72,247.9" fill="#fec13a" stroke="#111" stroke-width="0.6" stroke-linejoin="round"/>
<polygon points="179.85,258.8 193.58,255.2 183.08,253.6 169.35,255.5" fill="#1db3af" stroke="#111" stroke-width="0.6" stroke-linejoin="round"/>
<polygon points="93.45,249.5 107.18,248 96.68,246 82.95,247.5" fill="#fec733" stroke="#111" stroke-width="0.6" stroke-linejoin="round"/>
<polygon points="117.68,250 131.4,252.3 120.9,250.3 107.18,248" fill="#fccd2e" stroke="#111" stroke-width="0.22" stroke-linejoin="round"/>
<polygon points="141.9,254.6 155.62,255.9 145.12,253.6 131.4,252.3" fill="#b3bd65" stroke="#111" stroke-width="0.4" stroke-linejoin="round"/>
<polygon points="166.12,260.2 179.85,258.8 169.35,255.5 155.62,255.9" fill="#06a5c8" stroke="#111" stroke-width="0.6" stroke-linejoin="round"/>
<polygon points="79.72,252.1 93.45,249.5 82.95,247.5 69.22,251.2" fill="#fec13a" stroke="#111" stroke-width="0.6" stroke-linejoin="round"/>
<polygon points="103.95,251.5 117.68,250 107.18,248 93.45,249.5" fill="#fec733" stroke="#111" stroke-width="0.6" stroke-linejoin="round"/>
<polygon points="128.18,252.3 141.9,254.6 131.4,252.3 117.68,250" fill="#fec733" stroke="#111" stroke-width="0.26" stroke-linejoin="round"/>
<polygon points="152.4,259 166.12,260.2 155.62,255.9 141.9,254.6" fill="#3cba9c" stroke="#111" stroke-width="0.6" stroke-linejoin="round"/>
<polygon points="90.22,253.6 103.95,251.5 93.45,249.5 79.72,252.1" fill="#fec13a" stroke="#111" stroke-width="0.6" stroke-linejoin="round"/>
<polygon points="114.45,254.3 128.18,252.3 117.68,250 103.95,251.5" fill="#fec733" stroke="#111" stroke-width="0.6" stroke-linejoin="round"/>
<polygon points="138.68,256.3 152.4,259 141.9,254.6 128.18,252.3" fill="#6fbf81" stroke="#111" stroke-width="0.53" stroke-linejoin="round"/>
<polygon points="100.72,256 114.45,254.3 103.95,251.5 90.22,253.6" fill="#fec13a" stroke="#111" stroke-width="0.6" stroke-linejoin="round"/>
<polygon points="124.95,257.8 138.68,256.3 128.18,252.3 114.45,254.3" fill="#fec733" stroke="#111" stroke-width="0.6" stroke-linejoin="round"/>
<polygon points="111.22,258.3 124.95,257.8 114.45,254.3 100.72,256" fill="#fec13a" stroke="#111" stroke-width="0.6" stroke-linejoin="round"/>
<line x1="24" y1="267.6" x2="24" y2="226.8" stroke="#4a4a4a" stroke-width="0.75"/>
<line x1="24" y1="267.6" x2="108" y2="286.6" stroke="#303030" stroke-width="0.75"/>
<line x1="108" y1="286.6" x2="217.8" y2="272" stroke="#303030" stroke-width="0.75"/>
<line x1="24" y1="267.6" x2="21.8" y2="267.6" stroke="#303030" stroke-width="0.75"/>
<line x1="24" y1="247.2" x2="21.8" y2="247.2" stroke="#303030" stroke-width="0.75"/>
<line x1="24" y1="226.8" x2="21.8" y2="226.8" stroke="#303030" stroke-width="0.75"/>
<line x1="108" y1="286.6" x2="109.92" y2="286.34" stroke="#303030" stroke-width="0.75"/>
<line x1="108" y1="286.6" x2="106.11" y2="286.17" stroke="#303030" stroke-width="0.75"/>
<line x1="87" y1="281.85" x2="88.92" y2="281.59" stroke="#303030" stroke-width="0.75"/>
<line x1="135.45" y1="282.95" x2="133.56" y2="282.52" stroke="#303030" stroke-width="0.75"/>
<line x1="66" y1="277.1" x2="67.92" y2="276.84" stroke="#303030" stroke-width="0.75"/>
<line x1="162.9" y1="279.3" x2="161.01" y2="278.87" stroke="#303030" stroke-width="0.75"/>
<line x1="45" y1="272.35" x2="46.92" y2="272.09" stroke="#303030" stroke-width="0.75"/>
<line x1="190.35" y1="275.65" x2="188.46" y2="275.22" stroke="#303030" stroke-width="0.75"/>
<line x1="24" y1="267.6" x2="25.92" y2="267.34" stroke="#303030" stroke-width="0.75"/>
<line x1="217.8" y1="272" x2="215.91" y2="271.57" stroke="#303030" stroke-width="0.75"/>
<text transform="translate(20.4,270.5)" font-size="7.8" text-anchor="end" textLength="7.8" lengthAdjust="spacingAndGlyphs" fill="#1a1a1a" stroke="#1a1a1a" stroke-width="0.18" font-family="Liberation Serif, serif">20</text>
<text transform="translate(20.4,250.1)" font-size="7.8" text-anchor="end" textLength="7.8" lengthAdjust="spacingAndGlyphs" fill="#1a1a1a" stroke="#1a1a1a" stroke-width="0.18" font-family="Liberation Serif, serif">25</text>
<text transform="translate(20.4,229.7)" font-size="7.8" text-anchor="end" textLength="7.8" lengthAdjust="spacingAndGlyphs" fill="#1a1a1a" stroke="#1a1a1a" stroke-width="0.18" font-family="Liberation Serif, serif">30</text>
<text transform="translate(101.2,294.9)" font-size="7.8" text-anchor="middle" textLength="3.9" lengthAdjust="spacingAndGlyphs" fill="#1a1a1a" stroke="#1a1a1a" stroke-width="0.18" font-family="Liberation Serif, serif">0</text>
<text transform="translate(115.3,295.3)" font-size="7.8" text-anchor="middle" textLength="3.9" lengthAdjust="spacingAndGlyphs" fill="#1a1a1a" stroke="#1a1a1a" stroke-width="0.18" font-family="Liberation Serif, serif">0</text>
<text transform="translate(80.2,290.15)" font-size="7.8" text-anchor="middle" textLength="3.9" lengthAdjust="spacingAndGlyphs" fill="#1a1a1a" stroke="#1a1a1a" stroke-width="0.18" font-family="Liberation Serif, serif">2</text>
<text transform="translate(142.75,291.65)" font-size="7.8" text-anchor="middle" textLength="3.9" lengthAdjust="spacingAndGlyphs" fill="#1a1a1a" stroke="#1a1a1a" stroke-width="0.18" font-family="Liberation Serif, serif">2</text>
<text transform="translate(59.2,285.4)" font-size="7.8" text-anchor="middle" textLength="3.9" lengthAdjust="spacingAndGlyphs" fill="#1a1a1a" stroke="#1a1a1a" stroke-width="0.18" font-family="Liberation Serif, serif">4</text>
<text transform="translate(170.2,288)" font-size="7.8" text-anchor="middle" textLength="3.9" lengthAdjust="spacingAndGlyphs" fill="#1a1a1a" stroke="#1a1a1a" stroke-width="0.18" font-family="Liberation Serif, serif">4</text>
<text transform="translate(38.2,280.65)" font-size="7.8" text-anchor="middle" textLength="3.9" lengthAdjust="spacingAndGlyphs" fill="#1a1a1a" stroke="#1a1a1a" stroke-width="0.18" font-family="Liberation Serif, serif">6</text>
<text transform="translate(197.65,284.35)" font-size="7.8" text-anchor="middle" textLength="3.9" lengthAdjust="spacingAndGlyphs" fill="#1a1a1a" stroke="#1a1a1a" stroke-width="0.18" font-family="Liberation Serif, serif">6</text>
<text transform="translate(17.2,275.9)" font-size="6.3" text-anchor="middle" textLength="3.15" lengthAdjust="spacingAndGlyphs" fill="#1a1a1a" stroke="#1a1a1a" stroke-width="0.18" font-family="Liberation Serif, serif">8</text>
<text transform="translate(225.1,280.7)" font-size="7.8" text-anchor="middle" textLength="3.9" lengthAdjust="spacingAndGlyphs" fill="#1a1a1a" stroke="#1a1a1a" stroke-width="0.18" font-family="Liberation Serif, serif">8</text>
<text transform="translate(55,301.1)" font-size="7.5" text-anchor="middle" textLength="34.15" lengthAdjust="spacingAndGlyphs" fill="#1a1a1a" stroke="#1a1a1a" stroke-width="0.18" font-family="Liberation Serif, serif">Depth (a.u)</text>
<text transform="translate(169,302.2)" font-size="7.5" text-anchor="middle" textLength="34.27" lengthAdjust="spacingAndGlyphs" fill="#1a1a1a" stroke="#1a1a1a" stroke-width="0.18" font-family="Liberation Serif, serif">Width (a.u)</text>
<text transform="translate(8.9,246.9) rotate(-90)" font-size="7.8" text-anchor="middle" textLength="57.39" lengthAdjust="spacingAndGlyphs" fill="#1a1a1a" stroke="#1a1a1a" stroke-width="0.18" font-family="Liberation Serif, serif">Blue channel (a.u)</text>
<defs><linearGradient id="cb1" x1="0" y1="0" x2="0" y2="1"><stop offset="0.0000" stop-color="#f9fb0e"/><stop offset="0.0500" stop-color="#f5e31e"/><stop offset="0.1000" stop-color="#fad12b"/><stop offset="0.1500" stop-color="#fec13a"/><stop offset="0.2000" stop-color="#ecb94c"/><stop offset="0.2500" stop-color="#d3bb58"/><stop offset="0.3000" stop-color="#b8bd63"/><stop offset="0.3500" stop-color="#9bbf6f"/><stop offset="0.4000" stop-color="#7abf7c"/><stop offset="0.4500" stop-color="#55bd8e"/><stop offset="0.5000" stop-color="#33b8a1"/><stop offset="0.5500" stop-color="#18b1b2"/><stop offset="0.6000" stop-color="#07aac1"/><stop offset="0.6500" stop-color="#06a0cd"/><stop offset="0.7000" stop-color="#0d93d2"/><stop offset="0.7500" stop-color="#1484d4"/><stop offset="0.8000" stop-color="#0f77db"/><stop offset="0.8500" stop-color="#036ae1"/><stop offset="0.9000" stop-color="#1b55d7"/><stop offset="0.9500" stop-color="#353eaf"/><stop offset="1.0000" stop-color="#352a87"/></linearGradient></defs>
<rect x="240.3" y="8.3" width="14.8" height="73.8" fill="url(#cb1)" stroke="#303030" stroke-width="0.55"/>
<text transform="translate(258.7,85.1)" font-size="7.2" text-anchor="start" textLength="6" lengthAdjust="spacingAndGlyphs" fill="#1a1a1a" stroke="#1a1a1a" stroke-width="0.18" font-family="Liberation Serif, serif">-1</text>
<text transform="translate(258.7,66.65)" font-size="7.2" text-anchor="start" textLength="11.4" lengthAdjust="spacingAndGlyphs" fill="#1a1a1a" stroke="#1a1a1a" stroke-width="0.18" font-family="Liberation Serif, serif">-0.5</text>
<line x1="253.6" y1="63.65" x2="255.1" y2="63.65" stroke="#333" stroke-width="0.5"/>
<line x1="241.8" y1="63.65" x2="240.3" y2="63.65" stroke="#333" stroke-width="0.5"/>
<text transform="translate(258.7,48.2)" font-size="7.2" text-anchor="start" textLength="3.6" lengthAdjust="spacingAndGlyphs" fill="#1a1a1a" stroke="#1a1a1a" stroke-width="0.18" font-family="Liberation Serif, serif">0</text>
<line x1="253.6" y1="45.2" x2="255.1" y2="45.2" stroke="#333" stroke-width="0.5"/>
<line x1="241.8" y1="45.2" x2="240.3" y2="45.2" stroke="#333" stroke-width="0.5"/>
<text transform="translate(258.7,29.75)" font-size="7.2" text-anchor="start" textLength="9" lengthAdjust="spacingAndGlyphs" fill="#1a1a1a" stroke="#1a1a1a" stroke-width="0.18" font-family="Liberation Serif, serif">0.5</text>
<line x1="253.6" y1="26.75" x2="255.1" y2="26.75" stroke="#333" stroke-width="0.5"/>
<line x1="241.8" y1="26.75" x2="240.3" y2="26.75" stroke="#333" stroke-width="0.5"/>
<text transform="translate(258.7,11.3)" font-size="7.2" text-anchor="start" textLength="3.6" lengthAdjust="spacingAndGlyphs" fill="#1a1a1a" stroke="#1a1a1a" stroke-width="0.18" font-family="Liberation Serif, serif">1</text>
<defs><linearGradient id="cb2" x1="0" y1="0" x2="0" y2="1"><stop offset="0.0000" stop-color="#f9fb0e"/><stop offset="0.0500" stop-color="#f5e31e"/><stop offset="0.1000" stop-color="#fad12b"/><stop offset="0.1500" stop-color="#fec13a"/><stop offset="0.2000" stop-color="#ecb94c"/><stop offset="0.2500" stop-color="#d3bb58"/><stop offset="0.3000" stop-color="#b8bd63"/><stop offset="0.3500" stop-color="#9bbf6f"/><stop offset="0.4000" stop-color="#7abf7c"/><stop offset="0.4500" stop-color="#55bd8e"/><stop offset="0.5000" stop-color="#33b8a1"/><stop offset="0.5500" stop-color="#18b1b2"/><stop offset="0.6000" stop-color="#07aac1"/><stop offset="0.6500" stop-color="#06a0cd"/><stop offset="0.7000" stop-color="#0d93d2"/><stop offset="0.7500" stop-color="#1484d4"/><stop offset="0.8000" stop-color="#0f77db"/><stop offset="0.8500" stop-color="#036ae1"/><stop offset="0.9000" stop-color="#1b55d7"/><stop offset="0.9500" stop-color="#353eaf"/><stop offset="1.0000" stop-color="#352a87"/></linearGradient></defs>
<rect x="240.3" y="110.7" width="14.8" height="72.7" fill="url(#cb2)" stroke="#303030" stroke-width="0.55"/>
<text transform="translate(258.7,182.62)" font-size="7.2" text-anchor="start" textLength="7.2" lengthAdjust="spacingAndGlyphs" fill="#1a1a1a" stroke="#1a1a1a" stroke-width="0.18" font-family="Liberation Serif, serif">15</text>
<line x1="253.6" y1="179.62" x2="255.1" y2="179.62" stroke="#333" stroke-width="0.5"/>
<line x1="241.8" y1="179.62" x2="240.3" y2="179.62" stroke="#333" stroke-width="0.5"/>
<text transform="translate(258.7,168.08)" font-size="7.2" text-anchor="start" textLength="7.2" lengthAdjust="spacingAndGlyphs" fill="#1a1a1a" stroke="#1a1a1a" stroke-width="0.18" font-family="Liberation Serif, serif">20</text>
<line x1="253.6" y1="165.08" x2="255.1" y2="165.08" stroke="#333" stroke-width="0.5"/>
<line x1="241.8" y1="165.08" x2="240.3" y2="165.08" stroke="#333" stroke-width="0.5"/>
<text transform="translate(258.7,153.54)" font-size="7.2" text-anchor="start" textLength="7.2" lengthAdjust="spacingAndGlyphs" fill="#1a1a1a" stroke="#1a1a1a" stroke-width="0.18" font-family="Liberation Serif, serif">25</text>
<line x1="253.6" y1="150.54" x2="255.1" y2="150.54" stroke="#333" stroke-width="0.5"/>
<line x1="241.8" y1="150.54" x2="240.3" y2="150.54" stroke="#333" stroke-width="0.5"/>
<text transform="translate(258.7,139)" font-size="7.2" text-anchor="start" textLength="7.2" lengthAdjust="spacingAndGlyphs" fill="#1a1a1a" stroke="#1a1a1a" stroke-width="0.18" font-family="Liberation Serif, serif">30</text>
<line x1="253.6" y1="136" x2="255.1" y2="136" stroke="#333" stroke-width="0.5"/>
<line x1="241.8" y1="136" x2="240.3" y2="136" stroke="#333" stroke-width="0.5"/>
<text transform="translate(258.7,124.46)" font-size="7.2" text-anchor="start" textLength="7.2" lengthAdjust="spacingAndGlyphs" fill="#1a1a1a" stroke="#1a1a1a" stroke-width="0.18" font-family="Liberation Serif, serif">35</text>
<line x1="253.6" y1="121.46" x2="255.1" y2="121.46" stroke="#333" stroke-width="0.5"/>
<line x1="241.8" y1="121.46" x2="240.3" y2="121.46" stroke="#333" stroke-width="0.5"/>
<defs><linearGradient id="cb3" x1="0" y1="0" x2="0" y2="1"><stop offset="0.0000" stop-color="#f9fb0e"/><stop offset="0.0500" stop-color="#f5e31e"/><stop offset="0.1000" stop-color="#fad12b"/><stop offset="0.1500" stop-color="#fec13a"/><stop offset="0.2000" stop-color="#ecb94c"/><stop offset="0.2500" stop-color="#d3bb58"/><stop offset="0.3000" stop-color="#b8bd63"/><stop offset="0.3500" stop-color="#9bbf6f"/><stop offset="0.4000" stop-color="#7abf7c"/><stop offset="0.4500" stop-color="#55bd8e"/><stop offset="0.5000" stop-color="#33b8a1"/><stop offset="0.5500" stop-color="#18b1b2"/><stop offset="0.6000" stop-color="#07aac1"/><stop offset="0.6500" stop-color="#06a0cd"/><stop offset="0.7000" stop-color="#0d93d2"/><stop offset="0.7500" stop-color="#1484d4"/><stop offset="0.8000" stop-color="#0f77db"/><stop offset="0.8500" stop-color="#036ae1"/><stop offset="0.9000" stop-color="#1b55d7"/><stop offset="0.9500" stop-color="#353eaf"/><stop offset="1.0000" stop-color="#352a87"/></linearGradient></defs>
<rect x="240.3" y="213.6" width="14.8" height="72.7" fill="url(#cb3)" stroke="#303030" stroke-width="0.55"/>
<text transform="translate(258.7,289.3)" font-size="7.2" text-anchor="start" textLength="7.2" lengthAdjust="spacingAndGlyphs" fill="#1a1a1a" stroke="#1a1a1a" stroke-width="0.18" font-family="Liberation Serif, serif">21</text>
<text transform="translate(258.7,276.41)" font-size="7.2" text-anchor="start" textLength="7.2" lengthAdjust="spacingAndGlyphs" fill="#1a1a1a" stroke="#1a1a1a" stroke-width="0.18" font-family="Liberation Serif, serif">22</text>
<line x1="253.6" y1="273.41" x2="255.1" y2="273.41" stroke="#333" stroke-width="0.5"/>
<line x1="241.8" y1="273.41" x2="240.3" y2="273.41" stroke="#333" stroke-width="0.5"/>
<text transform="translate(258.7,263.52)" font-size="7.2" text-anchor="start" textLength="7.2" lengthAdjust="spacingAndGlyphs" fill="#1a1a1a" stroke="#1a1a1a" stroke-width="0.18" font-family="Liberation Serif, serif">23</text>
<line x1="253.6" y1="260.52" x2="255.1" y2="260.52" stroke="#333" stroke-width="0.5"/>
<line x1="241.8" y1="260.52" x2="240.3" y2="260.52" stroke="#333" stroke-width="0.5"/>
<text transform="translate(258.7,250.63)" font-size="7.2" text-anchor="start" textLength="7.2" lengthAdjust="spacingAndGlyphs" fill="#1a1a1a" stroke="#1a1a1a" stroke-width="0.18" font-family="Liberation Serif, serif">24</text>
<line x1="253.6" y1="247.63" x2="255.1" y2="247.63" stroke="#333" stroke-width="0.5"/>
<line x1="241.8" y1="247.63" x2="240.3" y2="247.63" stroke="#333" stroke-width="0.5"/>
<text transform="translate(258.7,237.74)" font-size="7.2" text-anchor="start" textLength="7.2" lengthAdjust="spacingAndGlyphs" fill="#1a1a1a" stroke="#1a1a1a" stroke-width="0.18" font-family="Liberation Serif, serif">25</text>
<line x1="253.6" y1="234.74" x2="255.1" y2="234.74" stroke="#333" stroke-width="0.5"/>
<line x1="241.8" y1="234.74" x2="240.3" y2="234.74" stroke="#333" stroke-width="0.5"/>
<text transform="translate(258.7,224.85)" font-size="7.2" text-anchor="start" textLength="7.2" lengthAdjust="spacingAndGlyphs" fill="#1a1a1a" stroke="#1a1a1a" stroke-width="0.18" font-family="Liberation Serif, serif">26</text>
<line x1="253.6" y1="221.85" x2="255.1" y2="221.85" stroke="#333" stroke-width="0.5"/>
<line x1="241.8" y1="221.85" x2="240.3" y2="221.85" stroke="#333" stroke-width="0.5"/>
<polyline fill="none" stroke="#3585cf" stroke-width="0.85" stroke-linejoin="round" points="309.6,42.6 545.5,42.6"/>
<rect x="309.6" y="6.9" width="235.9" height="71.6" fill="none" stroke="#505050" stroke-width="0.75"/>
<line x1="337.16" y1="78.5" x2="337.16" y2="75.3" stroke="#505050" stroke-width="0.8"/>
<line x1="337.16" y1="6.9" x2="337.16" y2="10.1" stroke="#505050" stroke-width="0.8"/>
<text transform="translate(337.26,93.4) scale(0.74,1)" font-size="10" text-anchor="middle" textLength="5" lengthAdjust="spacingAndGlyphs" fill="#1a1a1a" stroke="#1a1a1a" stroke-width="0.18" font-family="Liberation Serif, serif">5</text>
<line x1="382.43" y1="78.5" x2="382.43" y2="75.3" stroke="#505050" stroke-width="0.8"/>
<line x1="382.43" y1="6.9" x2="382.43" y2="10.1" stroke="#505050" stroke-width="0.8"/>
<text transform="translate(382.53,93.4) scale(0.74,1)" font-size="10" text-anchor="middle" textLength="10" lengthAdjust="spacingAndGlyphs" fill="#1a1a1a" stroke="#1a1a1a" stroke-width="0.18" font-family="Liberation Serif, serif">10</text>
<line x1="427.7" y1="78.5" x2="427.7" y2="75.3" stroke="#505050" stroke-width="0.8"/>
<line x1="427.7" y1="6.9" x2="427.7" y2="10.1" stroke="#505050" stroke-width="0.8"/>
<text transform="translate(427.8,93.4) scale(0.74,1)" font-size="10" text-anchor="middle" textLength="10" lengthAdjust="spacingAndGlyphs" fill="#1a1a1a" stroke="#1a1a1a" stroke-width="0.18" font-family="Liberation Serif, serif">15</text>
<line x1="472.97" y1="78.5" x2="472.97" y2="75.3" stroke="#505050" stroke-width="0.8"/>
<line x1="472.97" y1="6.9" x2="472.97" y2="10.1" stroke="#505050" stroke-width="0.8"/>
<text transform="translate(473.07,93.4) scale(0.74,1)" font-size="10" text-anchor="middle" textLength="10" lengthAdjust="spacingAndGlyphs" fill="#1a1a1a" stroke="#1a1a1a" stroke-width="0.18" font-family="Liberation Serif, serif">20</text>
<line x1="518.24" y1="78.5" x2="518.24" y2="75.3" stroke="#505050" stroke-width="0.8"/>
<line x1="518.24" y1="6.9" x2="518.24" y2="10.1" stroke="#505050" stroke-width="0.8"/>
<text transform="translate(518.34,93.4) scale(0.74,1)" font-size="10" text-anchor="middle" textLength="10" lengthAdjust="spacingAndGlyphs" fill="#1a1a1a" stroke="#1a1a1a" stroke-width="0.18" font-family="Liberation Serif, serif">25</text>
<text transform="translate(306.8,82.7) scale(0.74,1)" font-size="10" text-anchor="end" textLength="15" lengthAdjust="spacingAndGlyphs" fill="#1a1a1a" stroke="#1a1a1a" stroke-width="0.18" font-family="Liberation Serif, serif">254</text>
<line x1="309.6" y1="42.7" x2="312.2" y2="42.7" stroke="#505050" stroke-width="0.8"/>
<line x1="545.5" y1="42.7" x2="542.9" y2="42.7" stroke="#505050" stroke-width="0.8"/>
<text transform="translate(306.8,46.9) scale(0.74,1)" font-size="10" text-anchor="end" textLength="15" lengthAdjust="spacingAndGlyphs" fill="#1a1a1a" stroke="#1a1a1a" stroke-width="0.18" font-family="Liberation Serif, serif">255</text>
<text transform="translate(306.8,11.1) scale(0.74,1)" font-size="10" text-anchor="end" textLength="15" lengthAdjust="spacingAndGlyphs" fill="#1a1a1a" stroke="#1a1a1a" stroke-width="0.18" font-family="Liberation Serif, serif">256</text>
<text transform="translate(292.8,44.2) rotate(-90) scale(1.41,1)" font-size="7.3" text-anchor="middle" textLength="43.18" lengthAdjust="spacingAndGlyphs" fill="#1a1a1a" stroke="#1a1a1a" stroke-width="0.18" font-family="Liberation Serif, serif">Red band (a.u)</text>
<polyline fill="none" stroke="#3585cf" stroke-width="0.85" stroke-linejoin="round" points="309.36,110.27 311.11,135.73 312.27,117.55 315.47,114.64 316.64,137.91 318.09,119 321,116.09 322.45,141.55 324.64,117.55 327.11,111.73 328.71,140.82 330.45,116.09 333.36,113.18 335.25,140.09 337.29,116.09 340.64,112.45 342.53,137.18 344.27,117.55 347.18,113.91 349.36,138.64 351.25,117.55 354.45,115.36 355.91,137.91 358.09,116.09 361,113.91 362.45,135.73 364.35,117.55 367.55,111.73 369.29,136.45 371.18,116.82 374.09,116.09 375.84,139.36 377.73,121.18 380.64,118.27 382.82,136.16 384.71,119.29 387.18,113.18 388.64,134.27 390.09,119 393,116.09 394.89,139.36 396.64,117.55 399.55,113.18 401.29,135.73 403.18,116.09 406.53,111.73 407.98,137.18 409.73,117.55 412.64,113.18 414.53,137.18 416.27,116.82 419.18,112.45 420.64,138.64 422.53,116.09 425.73,112.45 427.47,139.36 429.36,116.09 432.27,112.45 434.45,139.36 436.2,116.82 439.55,111.73 441,135.73 442.89,116.09 446.09,110.27 447.84,134.27 449.73,119 452.64,114.64 454.09,135.73 456.27,117.55 459.18,112.45 460.64,137.18 462.38,117.55 464.71,113.18 465,111.73 466.16,114.64 467.18,134.27 469.07,119 471.98,114.64 473.73,138.64 475.47,119 478.82,114.64 479.98,133.55 481.73,117.55 484.64,113.18 486.38,137.91 488.27,117.55 491.18,113.18 492.64,140.09 494.53,116.82 497.29,112.45 498.89,139.36 500.64,117.55 503.98,113.91 505.44,140.82 507.18,117.55 510.09,113.91 511.84,140.09 513.73,116.82 515.91,113.18 518.09,144.45 519.98,117.55 522.45,112.45 524.35,142.27 526.09,117.55 529,113.18 531.91,142.27 533.65,117.55 536.27,113.18 539.18,142.27 540.93,120.45 543.55,116.82 544.71,117.55"/>
<rect x="309.6" y="106.3" width="235.9" height="71.1" fill="none" stroke="#505050" stroke-width="0.75"/>
<line x1="337.16" y1="177.4" x2="337.16" y2="174.2" stroke="#505050" stroke-width="0.8"/>
<line x1="337.16" y1="106.3" x2="337.16" y2="109.5" stroke="#505050" stroke-width="0.8"/>
<text transform="translate(337.26,192.3) scale(0.74,1)" font-size="10" text-anchor="middle" textLength="5" lengthAdjust="spacingAndGlyphs" fill="#1a1a1a" stroke="#1a1a1a" stroke-width="0.18" font-family="Liberation Serif, serif">5</text>
<line x1="382.43" y1="177.4" x2="382.43" y2="174.2" stroke="#505050" stroke-width="0.8"/>
<line x1="382.43" y1="106.3" x2="382.43" y2="109.5" stroke="#505050" stroke-width="0.8"/>
<text transform="translate(382.53,192.3) scale(0.74,1)" font-size="10" text-anchor="middle" textLength="10" lengthAdjust="spacingAndGlyphs" fill="#1a1a1a" stroke="#1a1a1a" stroke-width="0.18" font-family="Liberation Serif, serif">10</text>
<line x1="427.7" y1="177.4" x2="427.7" y2="174.2" stroke="#505050" stroke-width="0.8"/>
<line x1="427.7" y1="106.3" x2="427.7" y2="109.5" stroke="#505050" stroke-width="0.8"/>
<text transform="translate(427.8,192.3) scale(0.74,1)" font-size="10" text-anchor="middle" textLength="10" lengthAdjust="spacingAndGlyphs" fill="#1a1a1a" stroke="#1a1a1a" stroke-width="0.18" font-family="Liberation Serif, serif">15</text>
<line x1="472.97" y1="177.4" x2="472.97" y2="174.2" stroke="#505050" stroke-width="0.8"/>
<line x1="472.97" y1="106.3" x2="472.97" y2="109.5" stroke="#505050" stroke-width="0.8"/>
<text transform="translate(473.07,192.3) scale(0.74,1)" font-size="10" text-anchor="middle" textLength="10" lengthAdjust="spacingAndGlyphs" fill="#1a1a1a" stroke="#1a1a1a" stroke-width="0.18" font-family="Liberation Serif, serif">20</text>
<line x1="518.24" y1="177.4" x2="518.24" y2="174.2" stroke="#505050" stroke-width="0.8"/>
<line x1="518.24" y1="106.3" x2="518.24" y2="109.5" stroke="#505050" stroke-width="0.8"/>
<text transform="translate(518.34,192.3) scale(0.74,1)" font-size="10" text-anchor="middle" textLength="10" lengthAdjust="spacingAndGlyphs" fill="#1a1a1a" stroke="#1a1a1a" stroke-width="0.18" font-family="Liberation Serif, serif">25</text>
<text transform="translate(306.8,181.6) scale(0.74,1)" font-size="10" text-anchor="end" textLength="10" lengthAdjust="spacingAndGlyphs" fill="#1a1a1a" stroke="#1a1a1a" stroke-width="0.18" font-family="Liberation Serif, serif">50</text>
<line x1="309.6" y1="141.85" x2="312.2" y2="141.85" stroke="#505050" stroke-width="0.8"/>
<line x1="545.5" y1="141.85" x2="542.9" y2="141.85" stroke="#505050" stroke-width="0.8"/>
<text transform="translate(306.8,146.05) scale(0.74,1)" font-size="10" text-anchor="end" textLength="15" lengthAdjust="spacingAndGlyphs" fill="#1a1a1a" stroke="#1a1a1a" stroke-width="0.18" font-family="Liberation Serif, serif">100</text>
<text transform="translate(306.8,110.5) scale(0.74,1)" font-size="10" text-anchor="end" textLength="15" lengthAdjust="spacingAndGlyphs" fill="#1a1a1a" stroke="#1a1a1a" stroke-width="0.18" font-family="Liberation Serif, serif">150</text>
<text transform="translate(292.8,143.35) rotate(-90) scale(1.41,1)" font-size="7.3" text-anchor="middle" textLength="49.25" lengthAdjust="spacingAndGlyphs" fill="#1a1a1a" stroke="#1a1a1a" stroke-width="0.18" font-family="Liberation Serif, serif">Green band (a.u)</text>
<polyline fill="none" stroke="#3585cf" stroke-width="0.85" stroke-linejoin="round" points="309.36,232.91 309.7,234.73 310.16,237.48 310.71,240.44 311.28,242.89 311.84,244.11 312.39,243.59 312.98,241.81 313.57,239.54 314.13,237.53 314.6,236.55 314.97,236.99 315.25,238.35 315.49,240.03 315.75,241.43 316.05,241.93 316.41,241.25 316.79,239.79 317.19,237.99 317.62,236.28 318.09,235.09 318.64,234.42 319.26,233.99 319.9,233.79 320.5,233.82 321,234.07 321.37,234.49 321.65,235.09 321.89,235.93 322.14,237.12 322.45,238.73 322.83,241.36 323.24,244.96 323.68,248.62 324.14,251.45 324.64,252.55 325.17,250.96 325.75,247.3 326.35,242.98 326.95,239.41 327.55,238 328.12,239.73 328.67,243.67 329.24,248.33 329.83,252.27 330.45,254 331.15,252.58 331.89,248.98 332.65,244.64 333.4,240.99 334.09,239.45 334.71,240.99 335.27,244.64 335.82,248.98 336.38,252.58 337,254 337.69,252.37 338.44,248.65 339.2,244.14 339.94,240.15 340.64,238 341.25,238.34 341.82,240.31 342.36,242.9 342.93,245.13 343.55,246 344.24,244.94 344.98,242.6 345.74,239.86 346.49,237.55 347.18,236.55 347.8,237.39 348.36,239.53 348.91,242.11 349.47,244.31 350.09,245.27 350.77,244.36 351.49,242.13 352.24,239.55 352.99,237.6 353.73,237.27 354.45,239.43 355.18,243.41 355.91,247.92 356.64,251.64 357.36,253.27 358.1,251.83 358.83,248.17 359.57,243.79 360.29,240.15 361,238.73 361.67,240.52 362.3,244.55 362.93,249.32 363.6,253.31 364.35,255.02 365.23,253.61 366.23,250.09 367.25,245.72 368.21,241.76 369,239.45 369.58,239.33 370.02,240.53 370.38,242.3 370.74,243.89 371.18,244.55 371.71,243.85 372.26,242.31 372.84,240.53 373.45,239.13 374.09,238.73 374.78,239.74 375.53,241.76 376.29,244.16 377.03,246.27 377.73,247.45 378.38,247.54 379.01,246.96 379.61,245.97 380.16,244.84 380.64,243.82 381,242.85 381.27,241.75 381.5,240.62 381.75,239.58 382.09,238.73 382.54,238.09 383.06,237.61 383.62,237.23 384.18,236.89 384.71,236.55 385.22,236.09 385.74,235.56 386.24,235.11 386.73,234.9 387.18,235.09 387.61,235.96 388.02,237.42 388.41,239.02 388.76,240.33 389.07,240.91 389.3,240.51 389.45,239.41 389.59,238.01 389.78,236.69 390.09,235.82 390.57,235.4 391.19,235.17 391.85,235.15 392.48,235.36 393,235.82 393.37,236.33 393.65,236.89 393.89,237.77 394.14,239.26 394.45,241.64 394.83,245.88 395.24,251.82 395.68,257.96 396.14,262.81 396.64,264.91 397.18,263.11 397.78,258.41 398.4,252.5 399,247.07 399.55,243.82 400.02,243.34 400.44,244.49 400.84,246.4 401.26,248.17 401.73,248.91 402.28,248.41 402.89,247.26 403.51,245.78 404.11,244.29 404.64,243.09 405.08,242.06 405.47,240.99 405.83,240.07 406.17,239.5 406.53,239.45 406.89,240.04 407.25,241.13 407.6,242.58 407.94,244.25 408.27,246 408.56,248.31 408.81,251.27 409.05,254.17 409.35,256.29 409.73,256.91 410.23,255.3 410.82,251.95 411.46,247.94 412.08,244.38 412.64,242.36 413.11,242.41 413.55,243.78 413.96,245.71 414.37,247.44 414.82,248.18 415.3,247.73 415.81,246.59 416.33,245.09 416.83,243.57 417.29,242.36 417.71,241.35 418.11,240.3 418.48,239.4 418.84,238.81 419.18,238.73 419.49,239.18 419.77,240.06 420.04,241.29 420.32,242.81 420.64,244.55 420.98,247.01 421.33,250.24 421.71,253.48 422.1,255.96 422.53,256.91 423,255.75 423.52,252.98 424.06,249.49 424.56,246.15 425,243.82 425.36,242.49 425.66,241.57 425.92,241.1 426.18,241.11 426.45,241.64 426.75,242.83 427.04,244.68 427.33,246.94 427.62,249.4 427.91,251.82 428.17,254.81 428.39,258.52 428.62,262.05 428.93,264.48 429.36,264.91 429.96,262.22 430.7,257.02 431.49,250.98 432.28,245.78 433,243.09 433.61,243.91 434.16,247.11 434.7,251.21 435.26,254.73 435.91,256.18 436.67,254.67 437.51,251.2 438.38,247.09 439.22,243.7 439.98,242.36 440.63,244.07 441.2,247.91 441.74,252.43 442.29,256.16 442.89,257.64 443.57,255.93 444.29,252.03 445.02,247.3 445.73,243.14 446.38,240.91 446.95,241.33 447.44,243.47 447.92,246.29 448.43,248.69 449,249.64 449.7,248.57 450.49,246.19 451.29,243.34 452.03,240.82 452.64,239.45 453.04,239.72 453.31,241.05 453.51,242.77 453.74,244.17 454.09,244.55 454.59,243.5 455.18,241.49 455.82,239.13 456.44,237.04 457,235.82 457.48,235.54 457.93,235.79 458.34,236.48 458.76,237.49 459.18,238.73 459.63,240.33 460.09,242.38 460.54,244.64 460.97,246.9 461.36,248.91 461.69,250.97 461.98,253.24 462.24,255.28 462.51,256.65 462.82,256.91 463.17,255.57 463.55,252.91 463.94,249.68 464.33,246.65 464.71,244.55 465.06,243.44 465.4,242.83 465.73,242.63 466.08,242.74 466.45,243.09 466.85,244 467.26,245.52 467.69,247.18 468.15,248.47 468.64,248.91 469.18,248.08 469.78,246.31 470.4,244.23 471,242.46 471.55,241.64 472.04,241.88 472.49,242.78 472.92,244.13 473.33,245.76 473.73,247.45 474.09,249.68 474.41,252.57 474.73,255.43 475.07,257.59 475.47,258.36 475.96,257.22 476.51,254.61 477.09,251.33 477.63,248.19 478.09,246 478.46,244.84 478.77,244.18 479.04,243.89 479.29,243.81 479.55,243.82 479.79,244.13 480.02,244.83 480.24,245.6 480.46,246.1 480.71,246 480.98,245.08 481.26,243.55 481.55,241.76 481.85,240.04 482.16,238.73 482.5,237.79 482.85,236.99 483.22,236.4 483.57,236.08 483.91,236.11 484.21,236.39 484.48,236.89 484.74,237.72 485.03,239.02 485.36,240.91 485.73,244.11 486.11,248.55 486.53,253.13 487,256.76 487.55,258.36 488.2,256.93 488.94,253.18 489.73,248.62 490.5,244.76 491.18,243.09 491.76,244.56 492.26,248.16 492.74,252.48 493.24,256.11 493.8,257.64 494.45,256.12 495.15,252.52 495.88,248.21 496.61,244.6 497.29,243.09 497.92,244.62 498.52,248.25 499.1,252.57 499.7,256.17 500.35,257.64 501.04,255.85 501.78,251.75 502.53,247.02 503.27,243.34 503.98,242.36 504.64,245.47 505.27,251.54 505.89,258.53 506.52,264.39 507.18,267.09 507.91,265.39 508.69,260.66 509.47,254.73 510.2,249.47 510.82,246.73 511.28,247.45 511.6,250.4 511.89,254.16 512.23,257.29 512.71,258.36 513.39,256.41 514.22,252.38 515.09,247.73 515.93,243.91 516.64,242.36 517.2,243.63 517.67,246.73 518.08,250.88 518.46,255.27 518.82,259.09 519.12,263.07 519.35,267.74 519.57,272.02 519.85,274.83 520.27,275.09 520.87,271.25 521.61,264.02 522.4,255.73 523.19,248.71 523.91,245.27 524.52,246.95 525.08,252.21 525.62,258.73 526.18,264.22 526.82,266.36 527.55,263.7 528.36,257.78 529.2,250.78 530.01,244.91 530.75,242.36 531.37,244.6 531.93,250.16 532.46,256.85 533.01,262.49 533.65,264.91 534.41,262.8 535.26,257.63 536.13,251.33 536.97,245.84 537.73,243.09 538.37,244.17 538.94,247.79 539.48,252.32 540.03,256.15 540.64,257.64 541.38,256.02 542.21,252.39 543.05,247.9 543.77,243.68 544.27,240.91"/>
<rect x="309.6" y="206.1" width="235.9" height="70.5" fill="none" stroke="#505050" stroke-width="0.75"/>
<line x1="337.16" y1="276.6" x2="337.16" y2="273.4" stroke="#505050" stroke-width="0.8"/>
<line x1="337.16" y1="206.1" x2="337.16" y2="209.3" stroke="#505050" stroke-width="0.8"/>
<text transform="translate(337.26,291.5) scale(0.74,1)" font-size="10" text-anchor="middle" textLength="5" lengthAdjust="spacingAndGlyphs" fill="#1a1a1a" stroke="#1a1a1a" stroke-width="0.18" font-family="Liberation Serif, serif">5</text>
<line x1="382.43" y1="276.6" x2="382.43" y2="273.4" stroke="#505050" stroke-width="0.8"/>
<line x1="382.43" y1="206.1" x2="382.43" y2="209.3" stroke="#505050" stroke-width="0.8"/>
<text transform="translate(382.53,291.5) scale(0.74,1)" font-size="10" text-anchor="middle" textLength="10" lengthAdjust="spacingAndGlyphs" fill="#1a1a1a" stroke="#1a1a1a" stroke-width="0.18" font-family="Liberation Serif, serif">10</text>
<line x1="427.7" y1="276.6" x2="427.7" y2="273.4" stroke="#505050" stroke-width="0.8"/>
<line x1="427.7" y1="206.1" x2="427.7" y2="209.3" stroke="#505050" stroke-width="0.8"/>
<text transform="translate(427.8,291.5) scale(0.74,1)" font-size="10" text-anchor="middle" textLength="10" lengthAdjust="spacingAndGlyphs" fill="#1a1a1a" stroke="#1a1a1a" stroke-width="0.18" font-family="Liberation Serif, serif">15</text>
<line x1="472.97" y1="276.6" x2="472.97" y2="273.4" stroke="#505050" stroke-width="0.8"/>
<line x1="472.97" y1="206.1" x2="472.97" y2="209.3" stroke="#505050" stroke-width="0.8"/>
<text transform="translate(473.07,291.5) scale(0.74,1)" font-size="10" text-anchor="middle" textLength="10" lengthAdjust="spacingAndGlyphs" fill="#1a1a1a" stroke="#1a1a1a" stroke-width="0.18" font-family="Liberation Serif, serif">20</text>
<line x1="518.24" y1="276.6" x2="518.24" y2="273.4" stroke="#505050" stroke-width="0.8"/>
<line x1="518.24" y1="206.1" x2="518.24" y2="209.3" stroke="#505050" stroke-width="0.8"/>
<text transform="translate(518.34,291.5) scale(0.74,1)" font-size="10" text-anchor="middle" textLength="10" lengthAdjust="spacingAndGlyphs" fill="#1a1a1a" stroke="#1a1a1a" stroke-width="0.18" font-family="Liberation Serif, serif">25</text>
<text transform="translate(306.8,280.8) scale(0.74,1)" font-size="10" text-anchor="end" textLength="15" lengthAdjust="spacingAndGlyphs" fill="#1a1a1a" stroke="#1a1a1a" stroke-width="0.18" font-family="Liberation Serif, serif">100</text>
<line x1="309.6" y1="241.35" x2="312.2" y2="241.35" stroke="#505050" stroke-width="0.8"/>
<line x1="545.5" y1="241.35" x2="542.9" y2="241.35" stroke="#505050" stroke-width="0.8"/>
<text transform="translate(306.8,245.55) scale(0.74,1)" font-size="10" text-anchor="end" textLength="15" lengthAdjust="spacingAndGlyphs" fill="#1a1a1a" stroke="#1a1a1a" stroke-width="0.18" font-family="Liberation Serif, serif">150</text>
<text transform="translate(306.8,210.3) scale(0.74,1)" font-size="10" text-anchor="end" textLength="15" lengthAdjust="spacingAndGlyphs" fill="#1a1a1a" stroke="#1a1a1a" stroke-width="0.18" font-family="Liberation Serif, serif">200</text>
<text transform="translate(292.8,242.85) rotate(-90) scale(1.41,1)" font-size="7.3" text-anchor="middle" textLength="45.2" lengthAdjust="spacingAndGlyphs" fill="#1a1a1a" stroke="#1a1a1a" stroke-width="0.18" font-family="Liberation Serif, serif">Blue band (a.u)</text>
<text transform="translate(427.6,305.6) scale(0.65,1)" font-size="11.2" text-anchor="middle" textLength="37.86" lengthAdjust="spacingAndGlyphs" fill="#1a1a1a" stroke="#1a1a1a" stroke-width="0.18" font-family="Liberation Serif, serif">Time (s)</text>
<text transform="translate(136.1,319)" font-size="12.6" text-anchor="middle" textLength="14.69" lengthAdjust="spacingAndGlyphs" fill="#1a1a1a" stroke="#1a1a1a" stroke-width="0.18" font-weight="bold" font-family="Liberation Serif, serif">(a)</text>
<text transform="translate(416.4,321.5)" font-size="13.3" text-anchor="middle" textLength="16.26" lengthAdjust="spacingAndGlyphs" fill="#1a1a1a" stroke="#1a1a1a" stroke-width="0.18" font-weight="bold" font-family="Liberation Serif, serif">(b)</text>
</svg>
</body></html>
